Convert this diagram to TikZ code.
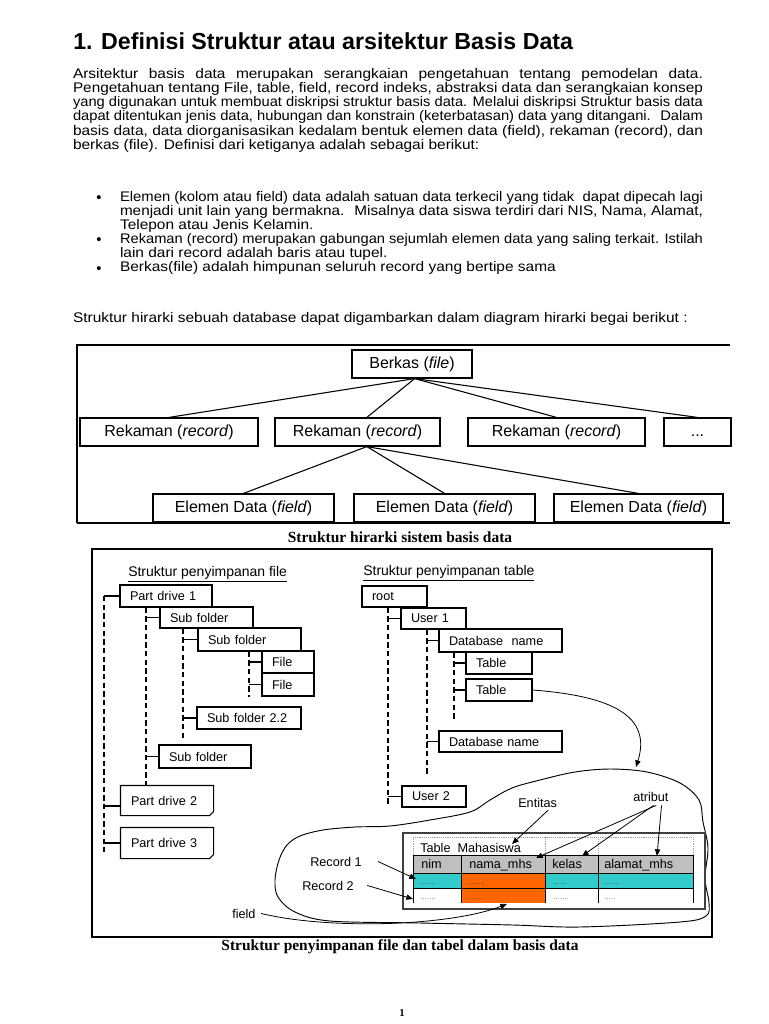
\documentclass[tikz,border=0pt]{standalone}
\usepackage{graphicx}
\usepackage{fontspec}
\setmainfont{Liberation Sans}
\newfontfamily\capfont{Liberation Serif}
\usetikzlibrary{arrows.meta,calc}
\definecolor{cyanrow}{HTML}{33CCCC}
\definecolor{orangecol}{HTML}{FF6600}
\definecolor{hdrgray}{HTML}{BFBFBF}
\newsavebox\linebox
% justified line of given width; squeezed horizontally if too long
\newcommand{\jl}[2]{\scalebox{1}[0.9]{\sbox\linebox{#2}\ifdim\wd\linebox>#1\relax\resizebox{#1}{\height}{\usebox\linebox}\else\makebox[#1][s]{#2}\fi}}
\newcommand{\nl}[1]{\scalebox{1}[0.9]{#1}}
% centred box: name x1 y1 x2 y2 text
\newcommand{\hb}[6]{\pgfmathsetmacro\bw{(#4-#2)*0.75}\pgfmathsetmacro\bh{(#5-#3)*0.75}%
  \node[hbox, minimum width=\bw pt, minimum height=\bh pt] (#1) at ({(#2+#4)/2},{(#3+#5)/2}) {#6};}
% left-aligned tree box: [opts] name x1 y1 x2 y2 text
\newcommand{\tb}[7][]{\pgfmathsetmacro\bw{(#5-#3)*0.75}\pgfmathsetmacro\bh{(#6-#4)*0.75}\pgfmathsetmacro\tw{\bw-15}%
  \node[tbox, #1, minimum width=\bw pt, minimum height=\bh pt, text width=\tw pt, inner xsep=7.5pt, inner ysep=0pt, align=left] (#2) at ({(#3+#5)/2},{(#4+#6)/2}) {#7};}
\begin{document}
\begin{tikzpicture}[x=0.75pt,y=-0.75pt,
  txt/.style={anchor=base west, inner sep=0pt, outer sep=0pt, font=\fontsize{11.6}{13}\selectfont},
  hbox/.style={draw, line width=0.9pt, inner sep=0pt, align=center, font=\fontsize{12}{14}\selectfont},
  tbox/.style={draw, line width=0.8pt, font=\fontsize{9.5}{11}\selectfont},
  hline/.style={line width=0.8pt},
  dsh/.style={line width=0.8pt, dash pattern=on 4pt off 2.5pt},
  tick/.style={line width=0.8pt},
  lbl/.style={inner sep=0pt, font=\fontsize{9.5}{11}\selectfont},
  arr/.style={line width=0.6pt, -{Triangle[length=5pt,width=4pt]}},
  dotb/.style={inner sep=0pt, font=\fontsize{11}{12}\selectfont},
  capt/.style={font=\capfont\bfseries\fontsize{11.6}{13}\selectfont, inner sep=0pt}]
\useasboundingbox (0,0) rectangle (768,1024);
\fill[white] (0,0) rectangle (768,1024);

% ---------- heading and text ----------
\node[anchor=base west, inner sep=0pt, font=\fontsize{17.4}{20}\bfseries\selectfont] (title) at (73,50) {1. Definisi Struktur atau arsitektur Basis Data};

\node[txt] (p1) at (73,79) {\jl{472.5pt}{Arsitektur basis data merupakan serangkaian pengetahuan tentang pemodelan data.}};
\node[txt] (p2) at (73,93) {\jl{472.5pt}{Pengetahuan tentang File, table, field, record indeks, abstraksi data dan serangkaian konsep}};
\node[txt] (p3) at (73,107) {\jl{472.5pt}{yang digunakan untuk membuat diskripsi struktur basis data. Melalui diskripsi Struktur basis data}};
\node[txt] (p4) at (73,121) {\jl{472.5pt}{dapat ditentukan jenis data, hubungan dan konstrain (keterbatasan) data yang ditangani. \ Dalam}};
\node[txt] (p5) at (73,135) {\jl{472.5pt}{basis data, data diorganisasikan kedalam bentuk elemen data (field), rekaman (record), dan}};
\node[txt] (p6) at (73,149) {\nl{berkas (file). Definisi dari ketiganya adalah sebagai berikut:}};

\node[dotb] (d1) at (99,199) {\textbullet};
\node[dotb] (d2) at (99,241) {\textbullet};
\node[dotb] (d3) at (99,270) {\textbullet};
\node[txt] (b1) at (120,201) {\jl{437.25pt}{Elemen (kolom atau field) data adalah satuan data terkecil yang tidak \ dapat dipecah lagi}};
\node[txt] (b2) at (120,215) {\jl{437.25pt}{menjadi unit lain yang bermakna. \ Misalnya data siswa terdiri dari NIS, Nama, Alamat,}};
\node[txt] (b3) at (120,229) {\nl{Telepon atau Jenis Kelamin.}};
\node[txt] (b4) at (120,243) {\jl{437.25pt}{Rekaman (record) merupakan gabungan sejumlah elemen data yang saling terkait. Istilah}};
\node[txt] (b5) at (120,257) {\nl{lain dari record adalah baris atau tupel.}};
\node[txt] (b6) at (120,271) {\nl{Berkas(file) adalah himpunan seluruh record yang bertipe sama}};

\node[txt] (intro) at (73,322) {\nl{Struktur hirarki sebuah database dapat digambarkan dalam diagram hirarki begai berikut :}};

% ---------- figure 1 ----------
\draw[line width=1pt] (730,345) -- (77,345) -- (77,523);
\draw[line width=1.8pt] (77,523) -- (730,523);

\hb{berkas}{352}{350}{472}{378}{Berkas (\textit{file})}
\hb{rekA}{80}{418}{258}{446}{Rekaman (\textit{record})}
\hb{rekB}{275}{418}{440}{446}{Rekaman (\textit{record})}
\hb{rekC}{468}{418}{645}{446}{Rekaman (\textit{record})}
\hb{rekD}{664}{418}{731}{446}{\vphantom{(}...}
\hb{elA}{153}{494}{334}{522}{Elemen Data (\textit{field})}
\hb{elB}{354}{494}{535}{522}{Elemen Data (\textit{field})}
\hb{elC}{554}{494}{723}{522}{Elemen Data (\textit{field})}

\draw[hline] ([xshift=2pt]berkas.south) -- (rekA.north);
\draw[hline] ([xshift=2pt]berkas.south) -- ([xshift=7pt]rekB.north);
\draw[hline] ([xshift=2pt]berkas.south) -- (rekC.north);
\draw[hline] ([xshift=2pt]berkas.south) -- (rekD.north);
\draw[hline] ([xshift=7pt]rekB.south) -- (elA.north);
\draw[hline] ([xshift=7pt]rekB.south) -- (elB.north);
\draw[hline] ([xshift=7pt]rekB.south) -- (elC.north);

\node[capt] (cap1) at (400,537) {Struktur hirarki sistem basis data};

% ---------- figure 2 ----------
\draw[line width=0.9pt] (92,549) rectangle (712,937);

\node[lbl, anchor=base west, font=\fontsize{10.5}{12}\selectfont] (stf) at (128,576) {\underline{Struktur penyimpanan file}};
\node[lbl, anchor=base west, font=\fontsize{10.5}{12}\selectfont] (stt) at (363,575) {\underline{Struktur penyimpanan table}};

% file tree
\tb{pdA}{120}{585}{212}{607}{Part drive 1}
\tb{sfA}{160}{607}{253}{628}{Sub folder}
\tb{sfB}{198}{628}{301}{651}{Sub folder}
\tb{fiA}{262}{651}{314}{673}{File}
\tb{fiB}{262}{673}{314}{696}{File}
\tb{sfC}{197}{707}{301}{729}{Sub folder 2.2}
\tb{sfD}{159}{745}{251}{768}{Sub folder}
\tb[draw=none]{pdB}{121}{786}{213}{815}{Part drive 2}
\tb[draw=none]{pdC}{121}{828}{213}{858}{Part drive 3}
\draw[line width=0.8pt] (pdB.north west) -- (pdB.north east) -- ([yshift=3pt]pdB.south east) -- ([xshift=-3pt]pdB.south east) -- (pdB.south west) -- cycle;
\draw[line width=0.8pt] (pdC.north west) -- (pdC.north east) -- ([yshift=3pt]pdC.south east) -- ([xshift=-3pt]pdC.south east) -- (pdC.south west) -- cycle;

\draw[dsh] (104,0 |- pdA.west) -- (104,852);
\draw[tick] (104,0 |- pdA.west) -- (pdA.west);
\draw[tick] (104,806) -- (121,806);
\draw[tick] (104,0 |- pdC.west) -- (pdC.west);
\draw[dsh] (146,0 |- pdA.south) -- (146,0 |- pdB.north);
\draw[tick] (146,0 |- sfA.west) -- (sfA.west);
\draw[tick] (146,0 |- sfD.west) -- (sfD.west);
\draw[dsh] (183,0 |- sfA.south) -- (183,738);
\draw[tick] (183,0 |- sfB.west) -- (sfB.west);
\draw[tick] (183,0 |- sfC.west) -- (sfC.west);
\draw[dsh] (249,0 |- sfB.south) -- (249,697);
\draw[tick] (249,0 |- fiA.west) -- (fiA.west);
\draw[tick] (249,0 |- fiB.west) -- (fiB.west);

% table tree
\tb{root}{362}{586}{427}{607}{root}
\tb{usA}{401}{608}{466}{629}{User 1}
\tb{dbA}{439}{629}{562}{652}{Database \ name}
\tb{taA}{466}{652}{532}{674}{Table}
\tb{taB}{466}{679}{532}{701}{Table}
\tb{dbB}{439}{731}{562}{752}{Database name}
\tb{usB}{402}{786}{466}{807}{User 2}

\draw[dsh] (388,0 |- root.south) -- (388,806);
\draw[tick] (388,0 |- usA.west) -- (usA.west);
\draw[tick] (388,0 |- usB.west) -- (usB.west);
\draw[dsh] (427,0 |- usA.south) -- (427,776);
\draw[tick] (427,0 |- dbA.west) -- (dbA.west);
\draw[tick] (427,0 |- dbB.west) -- (dbB.west);
\draw[dsh] (454,0 |- dbA.south) -- (454,719);
\draw[tick] (454,0 |- taA.west) -- (taA.west);
\draw[tick] (454,0 |- taB.west) -- (taB.west);

% cloud
\draw[line width=0.7pt] plot[smooth cycle, tension=0.55] coordinates {
  (275,880) (279,860) (287,845) (300,836) (323,830) (355,827) (390,826)
  (430,820) (470,812) (490,800) (512,788) (540,780) (575,772) (610,769)
  (647,772) (680,783) (699,800) (703,822) (708,848) (705,878) (709,903)
  (706,916) (680,922) (580,927) (513,925) (420,923) (330,921) (295,912) (278,897)};

\coordinate (cloudtip) at (636,767);
\draw[arr] (taB.east) .. controls (612,696) and (652,716) .. (cloudtip);

% table
\draw[line width=0.8pt, draw=black!75] (403,833) rectangle (705,909);
\draw[densely dotted, draw=gray!80] (413,837) rectangle (693,855);
\draw[densely dotted, draw=gray!80] (545,837) -- (545,855) (598,837) -- (598,855);
\fill[hdrgray] (413,855) rectangle (693,873);
\fill[cyanrow] (413,873) rectangle (693,888);
\fill[orangecol] (461,873) rectangle (545,903);
\draw[line width=0.7pt] (413,855) -- (693,855) (413,873) -- (693,873) (413,888) -- (693,888);
\draw[line width=0.7pt] (413,855) -- (413,903) (461,855) -- (461,903) (545,855) -- (545,903) (598,855) -- (598,903) (693,855) -- (693,903);

\node[lbl, anchor=base west] (tmh) at (420,852) {Table \ Mahasiswa};
\node[lbl, anchor=base west] (hA) at (421,868) {nim};
\node[lbl, anchor=base west] (hB) at (469,868) {nama\_mhs};
\node[lbl, anchor=base west] (hC) at (552,868) {kelas};
\node[lbl, anchor=base west] (hD) at (604,868) {alamat\_mhs};
\node[lbl, anchor=base west, font=\fontsize{6}{7}\selectfont, text=gray!60!black] (rA1) at (420,884) {.......};
\node[lbl, anchor=base west, font=\fontsize{6}{7}\selectfont, text=gray!60!black] (rB1) at (469,884) {.......};
\node[lbl, anchor=base west, font=\fontsize{6}{7}\selectfont, text=gray!60!black] (rC1) at (553,884) {......};
\node[lbl, anchor=base west, font=\fontsize{6}{7}\selectfont, text=gray!60!black] (rD1) at (604,884) {.......};
\node[lbl, anchor=base west, font=\fontsize{6}{7}\selectfont, text=gray] (rA2) at (420,899) {.......};
\node[lbl, anchor=base west, font=\fontsize{6}{7}\selectfont, text=gray!60!black] (rB2) at (469,899) {.......};
\node[lbl, anchor=base west, font=\fontsize{6}{7}\selectfont, text=gray] (rC2) at (553,899) {.......};
\node[lbl, anchor=base west, font=\fontsize{6}{7}\selectfont, text=gray] (rD2) at (604,899) {.....};

% labels and arrows
\node[lbl, anchor=base west] (rec1) at (310,866) {Record 1};
\node[lbl, anchor=base west] (rec2) at (302,890) {Record 2};
\node[lbl, anchor=base west] (fld) at (232,918) {field};
\node[lbl, anchor=base west] (ent) at (518,807) {Entitas};
\node[lbl, anchor=base west] (atr) at (633,801) {atribut};

\coordinate (r1tip) at (416,879);
\coordinate (r2tip) at (413,899);
\coordinate (ftip) at (507,904);
\coordinate (etip) at (512,844);
\coordinate (a1tip) at (536,858);
\coordinate (a2tip) at (582,856);
\coordinate (a3tip) at (657,856);
\draw[arr] ([xshift=12pt]rec1.east) -- (r1tip);
\draw[arr] ([xshift=10pt]rec2.east) -- (r2tip);
\draw[arr] ([xshift=4pt]fld.east) .. controls (330,930) and (450,926) .. (ftip);
\draw[arr] ([xshift=8pt,yshift=-2pt]ent.south) -- (etip);
\draw[arr] ([xshift=4pt,yshift=-3pt]atr.south) -- (a1tip);
\draw[arr] ([xshift=2pt,yshift=-3pt]atr.south) -- (a2tip);
\draw[arr] ([xshift=8pt,yshift=-3pt]atr.south) -- (a3tip);

\node[capt] (cap2) at (400,947) {Struktur penyimpanan file dan tabel dalam basis data};
\node[inner sep=0pt, font=\capfont\bfseries\fontsize{8}{9}\selectfont] (pg) at (402,1013) {1};
\end{tikzpicture}
\end{document}
